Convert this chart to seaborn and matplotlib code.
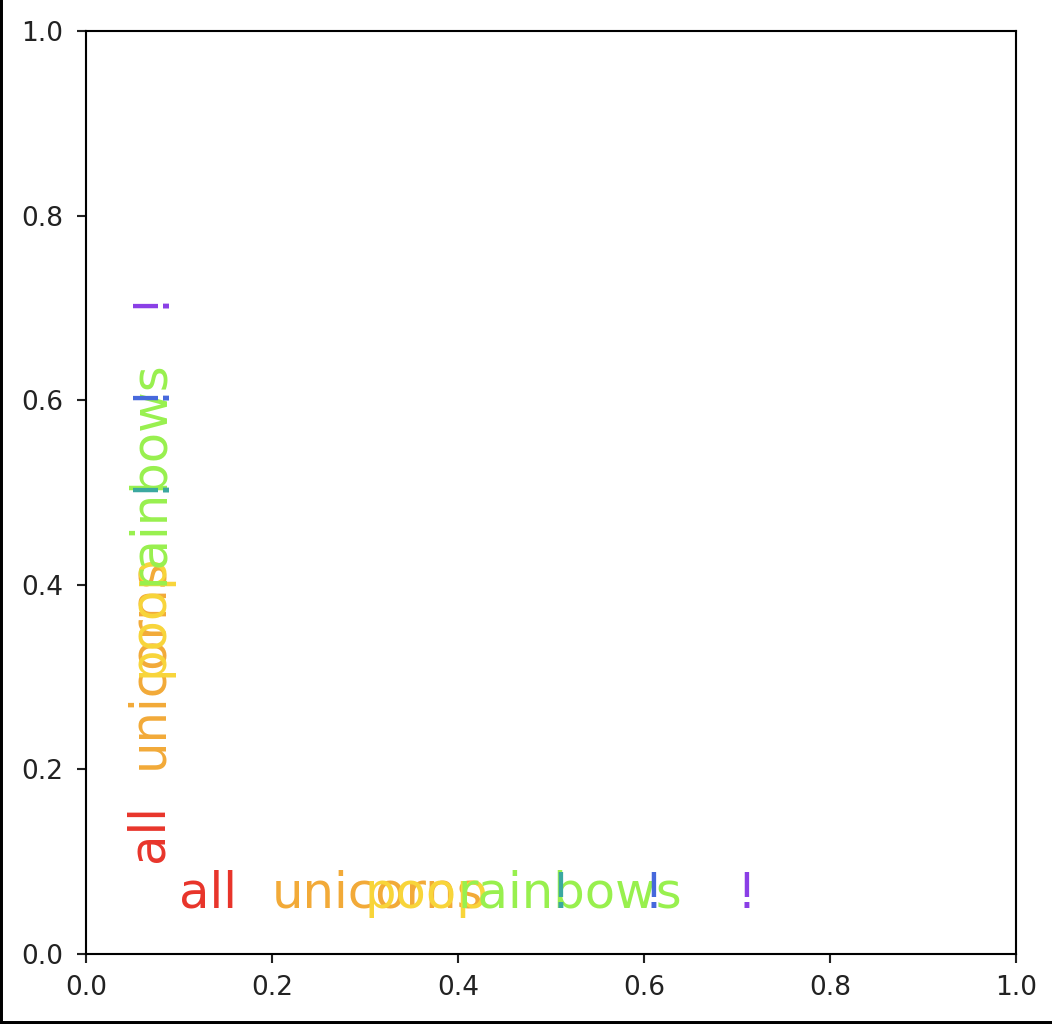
import matplotlib
matplotlib.use("Agg")
import matplotlib.pyplot as plt
from matplotlib.lines import Line2D
from matplotlib.transforms import offset_copy
import seaborn as sns

words = ["all", "unicorns", "poop", "rainbows", "!", "!", "!"]
colors = ["#e8352b", "#f2aa38", "#f8d53a", "#98f04e", "#3aa8a0", "#4668dc", "#8a3ee6"]
h_x = [0.1, 0.2, 0.3, 0.4, 0.5, 0.6, 0.7]
h_y = 0.05
v_x = 0.05
v_y = [0.1, 0.2, 0.3, 0.4, 0.5, 0.6, 0.7]

sns.set_style("ticks")
plt.rcParams['font.family'] = ['DejaVu Sans']

DPI = 190
fig = plt.figure(figsize=(1052 / DPI, 1024 / DPI), dpi=DPI)
ax = fig.add_axes([86 / 1052, 70 / 1024, 930 / 1052, 923 / 1024])
ax.set_xlim(0, 1)
ax.set_ylim(0, 1)
for s in ax.spines.values():
    s.set_color("black")
    s.set_linewidth(0.8)
ax.tick_params(colors="#222222", labelsize=10, length=3.5, width=0.8)
ax.tick_params(axis="x", pad=4.3)
ax.tick_params(axis="y", pad=5.0)

for w, c, x in zip(words, colors, h_x):
    ax.text(x, h_y, w, color=c, fontsize=18.8)

vtrans = offset_copy(ax.transData, fig=fig, x=-8, y=0, units="dots")
for w, c, y in zip(words, colors, v_y):
    ax.text(v_x, y, w, color=c, fontsize=18.8, rotation=90, va="bottom",
            transform=vtrans)

fig.add_artist(Line2D([0.0005, 0.0005], [0, 1], transform=fig.transFigure, color="black", lw=1.5))
fig.add_artist(Line2D([0, 1], [0.0008, 0.0008], transform=fig.transFigure, color="black", lw=1.5))

fig.savefig("out.png", dpi=DPI)
